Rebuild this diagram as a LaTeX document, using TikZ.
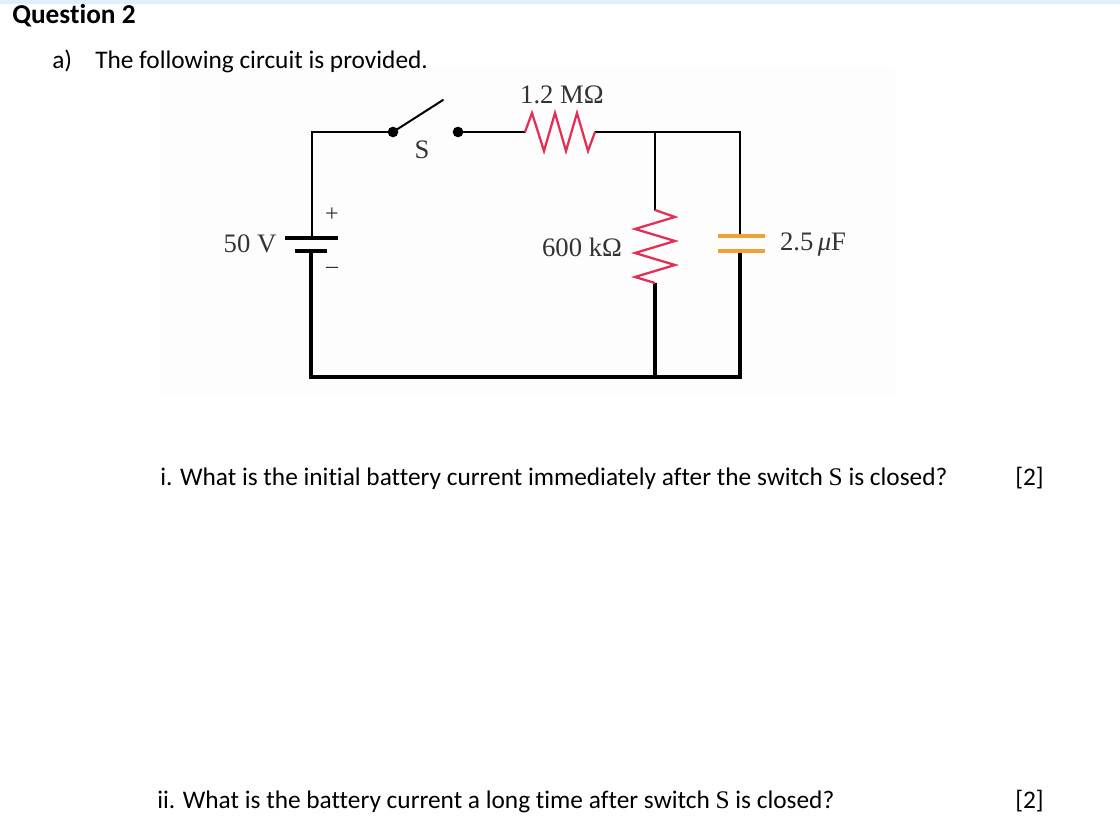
\documentclass[tikz,border=0pt]{standalone}
\usepackage{fontspec}
\setmainfont[Ligatures={NoCommon}]{Carlito}
\newfontfamily\cktfont{Liberation Serif}
\begin{document}
\begin{tikzpicture}[x=0.75pt,y=-0.75pt,
  qtext/.style={anchor=base west,inner sep=0pt,font=\fontsize{19}{22}\selectfont},
  clabel/.style={inner sep=0pt,text=black!80,font=\cktfont\fontsize{20}{22}\selectfont},
  wire/.style={line width=1.5pt,line cap=round,line join=miter},
  thickwire/.style={line width=2.3pt},
  res/.style={draw=resred,line width=1.7pt,line join=miter},
  plate/.style={line width=3pt},
  capplate/.style={draw=caporange,line width=3.2pt},
  dot/.style={circle,fill=black,inner sep=0pt,minimum size=8pt}]
\definecolor{resred}{HTML}{E62E55}
\definecolor{caporange}{HTML}{F0A23A}
\definecolor{bandblue}{HTML}{DDEEFC}
\useasboundingbox (0,0) rectangle (1120,816);
\fill[white] (0,0) rectangle (1120,816);
\fill[bandblue] (0,0) rectangle (1120,4);
\fill[black!0.6] (160,66) rectangle (895,395);
% texts
\node[qtext,font=\fontsize{20.5}{24}\selectfont\bfseries] (q2) at (12,24) {Question 2};
\node[qtext] (qa) at (52,69) {a)};
\node[qtext] (qat) at (95,69) {The following circuit is provided.};
\node[qtext] (qi) at (160,485) {i. What is the initial battery current immediately after the switch {\cktfont S} is closed?};
\node[qtext] (qim) at (1015,485) {[2]};
\node[qtext] (qii) at (157,808) {ii. What is the battery current a long time after switch {\cktfont S} is closed?};
\node[qtext] (qiim) at (1015,808) {[2]};
% circuit coordinates
\coordinate (tl) at (312,132);
\coordinate (bl) at (311,377);
\coordinate (tr) at (740,132);
\coordinate (br) at (740,377);
\coordinate (tm) at (655,132);
\coordinate (bm) at (655,377);
\node[dot] (s1) at (393,132) {};
\node[dot] (s2) at (458,132) {};
\coordinate (lever) at (443,100);
\coordinate (r1a) at (525,132);
\coordinate (r1b) at (595,132);
\coordinate (r2a) at (655,210);
\coordinate (r2b) at (655,283);
\coordinate (bpos) at (312,238);
\coordinate (bneg) at (311,251);
\coordinate (cpos) at (740,236);
\coordinate (cneg) at (740,251);
% wires
\draw[wire] (bpos) -- (tl) -- (s1);
\draw[wire] (s1.center) -- (lever);
\draw[wire] (s2) -- (r1a);
\draw[wire] (r1b) -- (tr) -- (cpos);
\draw[wire] (tm) -- (r2a);
\draw[thickwire] (bneg) -- (bl) -- (br) -- (cneg);
\draw[thickwire] (r2b) -- (bm);
% resistors
\draw[res] (r1a) -- (532,113) -- (544,151) -- (555,113) -- (566,151) -- (577,113) -- (588,151) -- (r1b);
\draw[res] (r2a) -- (675,217) -- (635,229) -- (675,241) -- (635,253) -- (675,265) -- (635,277) -- (r2b);
% battery
\draw[plate] (285,238) -- (338,238);
\draw[plate] (295,251) -- (327,251);
% capacitor
\draw[capplate] (718,236) -- (765,236);
\draw[capplate] (718,251) -- (765,251);
% labels
\node[clabel] (lbat) at (250,244) {50 V};
\node[clabel,font=\cktfont\fontsize{18}{18}\selectfont] (lplus) at (332,215) {+};
\node[clabel,font=\cktfont\fontsize{18}{18}\selectfont] (lminus) at (332,270) {\textendash};
\node[clabel] (ls) at (422,150) {S};
\node[clabel] (lr1) at (562,95) {1.2 MΩ};
\node[clabel] (lr2) at (582,247) {600 kΩ};
\node[clabel] (lc) at (813,245) {2.5\,{\itshape μ}F};
\end{tikzpicture}
\end{document}
